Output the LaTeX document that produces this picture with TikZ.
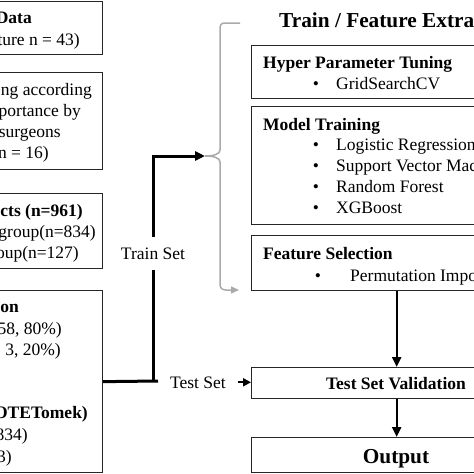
\documentclass[tikz,border=0pt]{standalone}
\usepackage{fontspec}
\setmainfont{Liberation Serif}
\usetikzlibrary{arrows.meta}
\definecolor{bracegray}{RGB}{170,170,170}
\tikzset{
  box/.style={draw=black!85, line width=1.3pt, inner sep=0pt},
  txt/.style={inner sep=0pt, font=\fontsize{17.5}{21}\selectfont},
  hd/.style={inner sep=0pt, font=\fontsize{17.5}{21}\selectfont\bfseries},
  big/.style={inner sep=0pt, font=\fontsize{21.3}{25}\selectfont\bfseries},
  conn/.style={line width=3pt},
  flow/.style={line width=2.2pt, -{Triangle[length=10pt,width=9pt]}},
  brace/.style={draw=bracegray, line width=1.5pt}
}
\begin{document}
\begin{tikzpicture}[x=1pt,y=-1pt]
\useasboundingbox (0,0) rectangle (474,474);
\clip (0,0) rectangle (474,474);

% left column
\node[box, anchor=north east, minimum width=253pt, minimum height=53pt] (rawdata) at (103,1) {};
\node[box, anchor=north east, minimum width=253pt, minimum height=97pt] (rank) at (103,72) {};
\node[box, anchor=north east, minimum width=253pt, minimum height=75pt] (subj) at (103,193) {};
\node[box, anchor=north east, minimum width=253pt, minimum height=182pt] (split) at (103,290) {};

\node[hd, anchor=base east] (rawdata1) at (32,23) {Data};
\node[txt, anchor=base east] (rawdata2) at (80,45) {ture n = 43)};
\node[txt, anchor=base east] (rank1) at (92,95) {ng according};
\node[txt, anchor=base east] (rank2) at (81,116) {portance by};
\node[txt, anchor=base east] (rank3) at (61,137) {surgeons};
\node[txt, anchor=base east] (rank4) at (49,158) {n = 16)};
\node[hd, anchor=base east] (subj1) at (83,216) {cts (n=961)};
\node[txt, anchor=base east] (subj2) at (96,237) {group(n=834)};
\node[txt, anchor=base east] (subj3) at (79,258) {oup(n=127)};
\node[hd, anchor=base east] (split1) at (19,312) {on};
\node[txt, anchor=base east] (split2) at (62,334) {58, 80\%)};
\node[txt, anchor=base east] (split3) at (61,355) {3, 20\%)};
\node[hd, anchor=base east] (split4) at (88,418) {OTETomek)};
\node[txt, anchor=base east] (split5) at (28,440) {834)};
\node[txt, anchor=base east] (split6) at (12,462) {3)};

% right column
\node[big, anchor=base west] (title) at (279,27) {Train / Feature Extrac};
\node[box, anchor=north west, minimum width=290pt, minimum height=53pt] (tune) at (251,45) {};
\node[box, anchor=north west, minimum width=290pt, minimum height=118pt] (model) at (251,106) {};
\node[box, anchor=north west, minimum width=290pt, minimum height=55pt] (featsel) at (251,235) {};
\node[box, anchor=north west, minimum width=290pt, minimum height=31pt] (valid) at (251,367) {};
\node[box, anchor=north west, minimum width=290pt, minimum height=35pt] (output) at (251,437) {};

\node[hd, anchor=base west] (tune1) at (263,68) {Hyper Parameter Tuning};
\node[txt, anchor=base] at (316,89) {\textbullet};
\node[txt, anchor=base west] (tune2) at (336,89) {GridSearchCV};
\node[hd, anchor=base west] (model1) at (263,130) {Model Training};
\foreach \y/\m in {150/Logistic Regression, 171/Support Vector Mac, 192/Random Forest, 213/XGBoost}{
  \node[txt, anchor=base] at (316,\y) {\textbullet};
  \node[txt, anchor=base west] at (336,\y) {\m};
}
\node[hd, anchor=base west] (featsel1) at (263,259) {Feature Selection};
\node[txt, anchor=base] at (318,281) {\textbullet};
\node[txt, anchor=base west] (featsel2) at (350,281) {Permutation Impo};
\node[hd, anchor=base] (valid1) at (396,389) {Test Set Validation};
\node[big, anchor=base] (output1) at (396,463) {Output};

% connectors
\coordinate (junc) at (153,381);
\coordinate (jend) at (158,381);
\coordinate (bracetip) at (205,156);
\node[txt, anchor=base, inner ysep=10.5pt] (trainlbl) at (153,259) {Train Set};
\node[txt, anchor=base, inner xsep=12pt] (testlbl) at (198,388) {Test Set};

\draw[conn] (split.east) -- (jend);
\draw[conn] (junc) -- (trainlbl);
\draw[conn, -{Triangle[length=10pt,width=9pt]}] (trainlbl) |- (bracetip);
\draw[line width=2pt, -{Triangle[length=8pt,width=8pt]}] (testlbl.east) -- (testlbl.east -| valid.west);

\draw[brace, -{Triangle[length=8pt,width=7pt]}] (240,23) -- (225,23)
  .. controls (221,23) and (220,25) .. (220,29) -- (220,150)
  .. controls (220,154) and (214,156) .. (bracetip)
  .. controls (214,156) and (220,158) .. (220,162) -- (220,284)
  .. controls (220,288) and (222,290) .. (226,290) -- (239,290);

\draw[flow] (featsel) -- (valid);
\draw[flow] (valid) -- (output);
\end{tikzpicture}
\end{document}
